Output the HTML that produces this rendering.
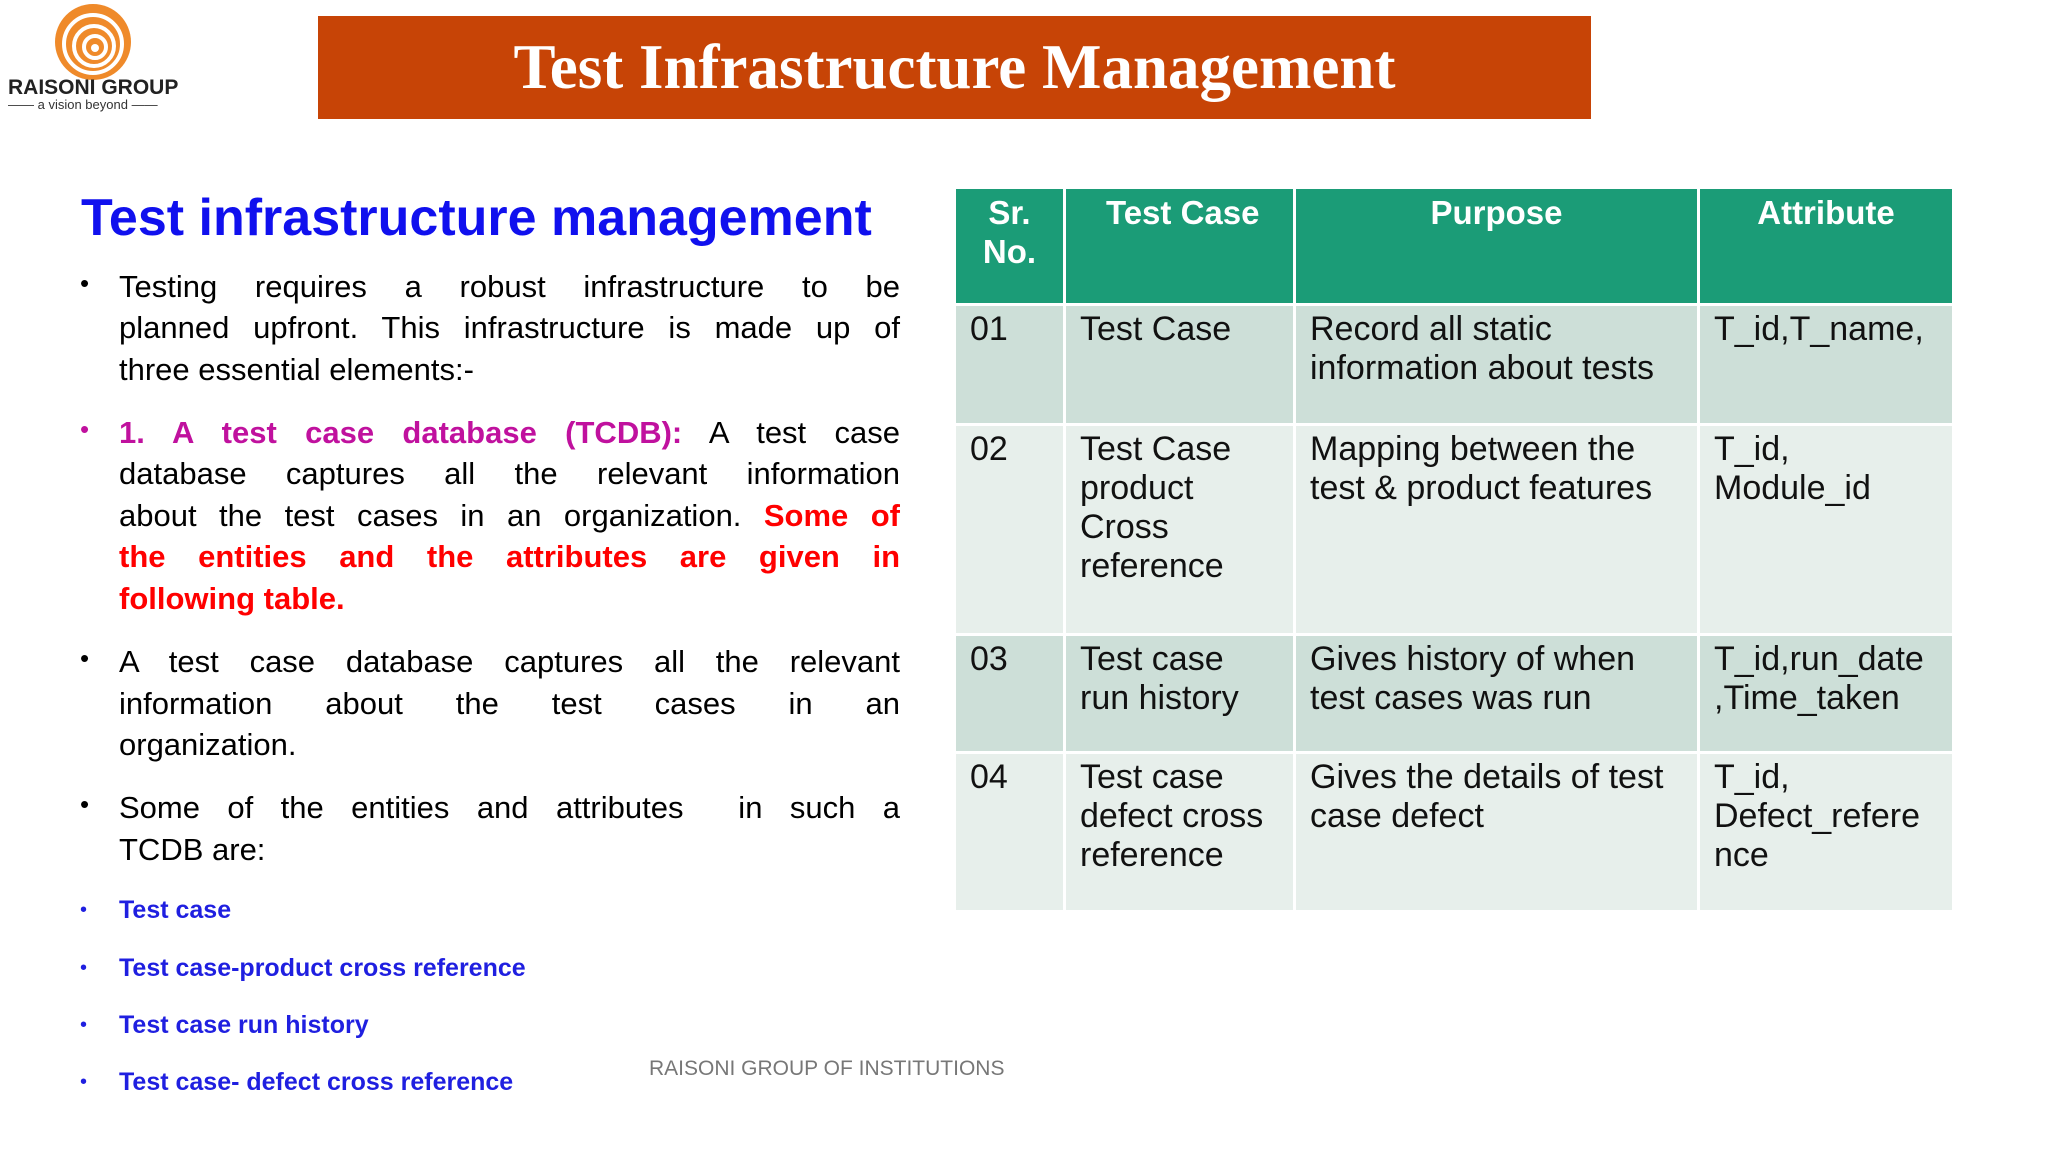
<!DOCTYPE html>
<html><head><meta charset="utf-8"><style>
*{margin:0;padding:0;box-sizing:border-box}
body{width:2048px;height:1152px;background:#fff;position:relative;overflow:hidden;font-family:"Liberation Sans",sans-serif}
.a{position:absolute}
.ln{position:absolute;left:119px;width:781px;font-size:31px;line-height:41.5px;white-space:nowrap;color:#000}
.j{text-align:justify;text-align-last:justify;white-space:normal}
.bul{position:absolute;left:80px;font-size:26px}
.small{position:absolute;left:119px;font-size:25px;font-weight:bold;color:#1f1fe0;white-space:nowrap}
.sb{position:absolute;left:80px;font-size:20px;color:#1f1fe0}
.cell{position:absolute;font-size:34px;line-height:39px;padding:4px 0 0 14px;color:#111;white-space:nowrap}
.hd{color:#fff;font-weight:bold;text-align:center;padding-left:0;font-size:33px}
</style></head><body>
<div class="a" style="left:0;top:0;width:190px;height:115px">
<svg width="190" height="80"><circle cx="93" cy="42" r="38" fill="#ef8a2a"/><circle cx="93" cy="44" r="29" fill="none" stroke="#fff" stroke-width="4"/><circle cx="94" cy="46" r="20" fill="none" stroke="#fff" stroke-width="4"/><circle cx="95" cy="47" r="11" fill="none" stroke="#fff" stroke-width="4"/><circle cx="95" cy="48" r="4" fill="#fff"/></svg>
<div class="a" style="left:8px;top:76px;font-size:21px;font-weight:bold;color:#222;white-space:nowrap">RAISONI GROUP</div>
<div class="a" style="left:8px;top:97px;font-size:13px;color:#333;white-space:nowrap">—— a vision beyond ——</div>
</div>
<div class="a" style="left:318px;top:16px;width:1273px;height:103px;background:#c74406;color:#fff;font-family:'Liberation Serif',serif;font-weight:bold;font-size:63px;text-align:center;line-height:103px;white-space:nowrap">Test Infrastructure Management</div>
<div class="a" style="left:81px;top:188px;font-size:52px;font-weight:bold;color:#1010ee;white-space:nowrap">Test infrastructure management</div>

<div>
<div class="bul" style="top:268px">•</div>
<div class="ln j" style="top:266px">Testing requires a robust infrastructure to be</div>
<div class="ln j" style="top:307px">planned upfront. This infrastructure is made up of</div>
<div class="ln" style="top:349px">three essential elements:-</div>
</div>
<div>
<div class="bul" style="top:414px;color:#c0119e">•</div>
<div class="ln j" style="top:412px"><b style="color:#c0119e">1. A test case database (TCDB):</b> A test case</div>
<div class="ln j" style="top:453px">database captures all the relevant information</div>
<div class="ln j" style="top:495px">about the test cases in an organization. <b style="color:#f00">Some of</b></div>
<div class="ln j" style="top:536px;color:#f00;font-weight:bold">the entities and the attributes are given in</div>
<div class="ln" style="top:578px;color:#f00;font-weight:bold">following table.</div>
</div>
<div>
<div class="bul" style="top:643px">•</div>
<div class="ln j" style="top:641px">A test case database captures all the relevant</div>
<div class="ln j" style="top:683px">information about the test cases in an</div>
<div class="ln" style="top:724px">organization.</div>
</div>
<div>
<div class="bul" style="top:789px">•</div>
<div class="ln j" style="top:787px">Some of the entities and attributes &nbsp;in such a</div>
<div class="ln" style="top:829px">TCDB are:</div>
</div>
<div>
<div class="sb" style="top:899px">•</div><div class="small" style="top:896px">Test case</div>
<div class="sb" style="top:957px">•</div><div class="small" style="top:954px">Test case-product cross reference</div>
<div class="sb" style="top:1014px">•</div><div class="small" style="top:1011px">Test case run history</div>
<div class="sb" style="top:1071px">•</div><div class="small" style="top:1068px">Test case- defect cross reference</div>
</div>
<div class="a" style="left:649px;top:1057px;font-size:21px;color:#777;white-space:nowrap">RAISONI GROUP OF INSTITUTIONS</div>

<div class="a" style="left:0;top:0">
<div class="a" style="left:956px;top:189px;width:996px;height:114px;background:#1b9c77"></div>
<div class="a" style="left:956px;top:306px;width:996px;height:117px;background:#cddfd8"></div>
<div class="a" style="left:956px;top:426px;width:996px;height:207px;background:#e7efeb"></div>
<div class="a" style="left:956px;top:636px;width:996px;height:115px;background:#cddfd8"></div>
<div class="a" style="left:956px;top:754px;width:996px;height:156px;background:#e7efeb"></div>
<div class="a" style="left:1063px;top:189px;width:3px;height:721px;background:#fff"></div>
<div class="a" style="left:1293px;top:189px;width:3px;height:721px;background:#fff"></div>
<div class="a" style="left:1697px;top:189px;width:3px;height:721px;background:#fff"></div>

<div class="cell hd" style="left:956px;top:189px;width:107px">Sr.<br>No.</div>
<div class="cell hd" style="left:1066px;top:189px;width:227px;text-align:left;padding-left:40px">Test Case</div>
<div class="cell hd" style="left:1296px;top:189px;width:401px">Purpose</div>
<div class="cell hd" style="left:1700px;top:189px;width:252px">Attribute</div>

<div class="cell" style="left:956px;top:306px">01</div>
<div class="cell" style="left:1066px;top:306px">Test Case</div>
<div class="cell" style="left:1296px;top:306px">Record all static<br>information about tests</div>
<div class="cell" style="left:1700px;top:306px">T_id,T_name,</div>

<div class="cell" style="left:956px;top:426px">02</div>
<div class="cell" style="left:1066px;top:426px">Test Case<br>product<br>Cross<br>reference</div>
<div class="cell" style="left:1296px;top:426px">Mapping between the<br>test &amp; product features</div>
<div class="cell" style="left:1700px;top:426px">T_id,<br>Module_id</div>

<div class="cell" style="left:956px;top:636px">03</div>
<div class="cell" style="left:1066px;top:636px">Test case<br>run history</div>
<div class="cell" style="left:1296px;top:636px">Gives history of when<br>test cases was run</div>
<div class="cell" style="left:1700px;top:636px">T_id,run_date<br>,Time_taken</div>

<div class="cell" style="left:956px;top:754px">04</div>
<div class="cell" style="left:1066px;top:754px">Test case<br>defect cross<br>reference</div>
<div class="cell" style="left:1296px;top:754px">Gives the details of test<br>case defect</div>
<div class="cell" style="left:1700px;top:754px">T_id,<br>Defect_refere<br>nce</div>
</div>
</body></html>
